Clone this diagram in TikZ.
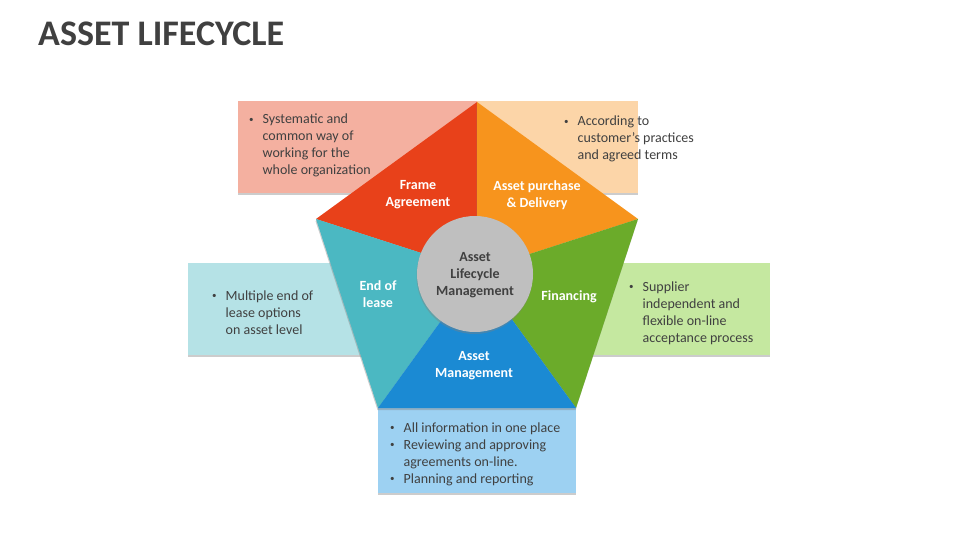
\documentclass[tikz,border=0pt]{standalone}
\usepackage{fontspec}
\setmainfont{Carlito}
\usetikzlibrary{shadows}

\definecolor{txtgray}{HTML}{404040}
\definecolor{segred}{HTML}{E8411A}
\definecolor{segorange}{HTML}{F7941D}
\definecolor{seggreen}{HTML}{6BAB2A}
\definecolor{segblue}{HTML}{1B8AD3}
\definecolor{segteal}{HTML}{4BB8C2}
\definecolor{boxsalmon}{HTML}{F4B0A0}
\definecolor{boxpeach}{HTML}{FCD5A8}
\definecolor{boxteal}{HTML}{B5E2E6}
\definecolor{boxgreen}{HTML}{C5E8A0}
\definecolor{boxblue}{HTML}{9DD1F2}
\definecolor{hubgray}{HTML}{BFBFBF}

\newcommand{\bul}{\raisebox{1.5pt}{\fontsize{9}{9}\selectfont\textbullet}}

\begin{document}
\begin{tikzpicture}[x=1pt,y=-1pt,
    shade/.style={drop shadow={shadow xshift=-.5pt,shadow yshift=-2pt,opacity=.4}},
    note/.style={anchor=base west,inner sep=0pt,text=txtgray,font=\fontsize{14}{17}\selectfont},
    seglabel/.style={align=center,inner sep=0pt,text=white,font=\fontsize{14}{17}\selectfont\bfseries}]

  \useasboundingbox[fill=white] (0,0) rectangle (960,540);

  \node[anchor=base west,inner sep=0pt,text=txtgray,font=\fontsize{36}{40}\selectfont\bfseries]
    (title) at (38,46) {ASSET LIFECYCLE};

  % pentagon corners
  \coordinate (c)  at (477,271);
  \coordinate (t)  at (477,102);
  \coordinate (ul) at (316,219);
  \coordinate (ur) at (638,219);
  \coordinate (ll) at (378,408);
  \coordinate (lr) at (576,408);

  % text boxes
  \fill[boxsalmon,shade] (238,101) rectangle (477,193);
  \fill[boxpeach,shade]  (477,101) rectangle (638,193);
  \fill[boxteal,shade]   (188,263) rectangle (380,355);
  \fill[boxgreen,shade]  (576,263) rectangle (770,355);
  \fill[boxblue,shade]   (378,400) rectangle (576,493);

  % segments
  \fill[segred,shade]    (c) -- (t)  -- (ul) -- cycle;
  \fill[segorange,shade] (c) -- (ur) -- (t)  -- cycle;
  \fill[seggreen,shade]  (c) -- (lr) -- (ur) -- cycle;
  \fill[segteal,shade]   (c) -- (ul) -- (ll) -- cycle;
  \fill[segblue,shade]   (c) -- (ll) -- (lr) -- cycle;

  \node[circle,fill=hubgray,minimum size=116pt,inner sep=0pt,shade] (hub) at (475,274) {};
  \node[align=center,inner sep=0pt,text=txtgray,font=\fontsize{14}{17}\selectfont\bfseries]
    (hubtext) at (475,275) {Asset\\Lifecycle\\Management};

  \begin{scope}[every node/.style={seglabel}]
    \node (frame)   at (418,195) {Frame\\Agreement};
    \node (purch)   at (537,195) {Asset purchase\\\& Delivery};
    \node (fin)     at (569,297) {Financing};
    \node (eol)     at (378,294) {End of\\lease};
    \node (assmgmt) at (474,366) {Asset\\Management};
  \end{scope}

  \begin{scope}[every node/.style={note}]
    \node (n1) at (249,124) {\begin{tabular}[t]{@{}l@{\hspace{9pt}}l@{}}
      \bul & Systematic and\\ & common way of\\ & working for the\\ & whole organization\end{tabular}};
    \node (n2) at (564,126) {\begin{tabular}[t]{@{}l@{\hspace{9pt}}l@{}}
      \bul & According to\\ & customer’s practices\\ & and agreed terms\end{tabular}};
    \node (n3) at (212,300) {\begin{tabular}[t]{@{}l@{\hspace{9pt}}l@{}}
      \bul & Multiple end of\\ & lease options\\ & on asset level\end{tabular}};
    \node (n4) at (629,291) {\begin{tabular}[t]{@{}l@{\hspace{9pt}}l@{}}
      \bul & Supplier\\ & independent and\\ & flexible on-line\\ & acceptance process\end{tabular}};
    \node (n5) at (390,432) {\begin{tabular}[t]{@{}l@{\hspace{9pt}}l@{}}
      \bul & All information in one place\\ \bul & Reviewing and approving\\ & agreements on-line.\\ \bul & Planning and reporting\end{tabular}};
  \end{scope}

\end{tikzpicture}
\end{document}
